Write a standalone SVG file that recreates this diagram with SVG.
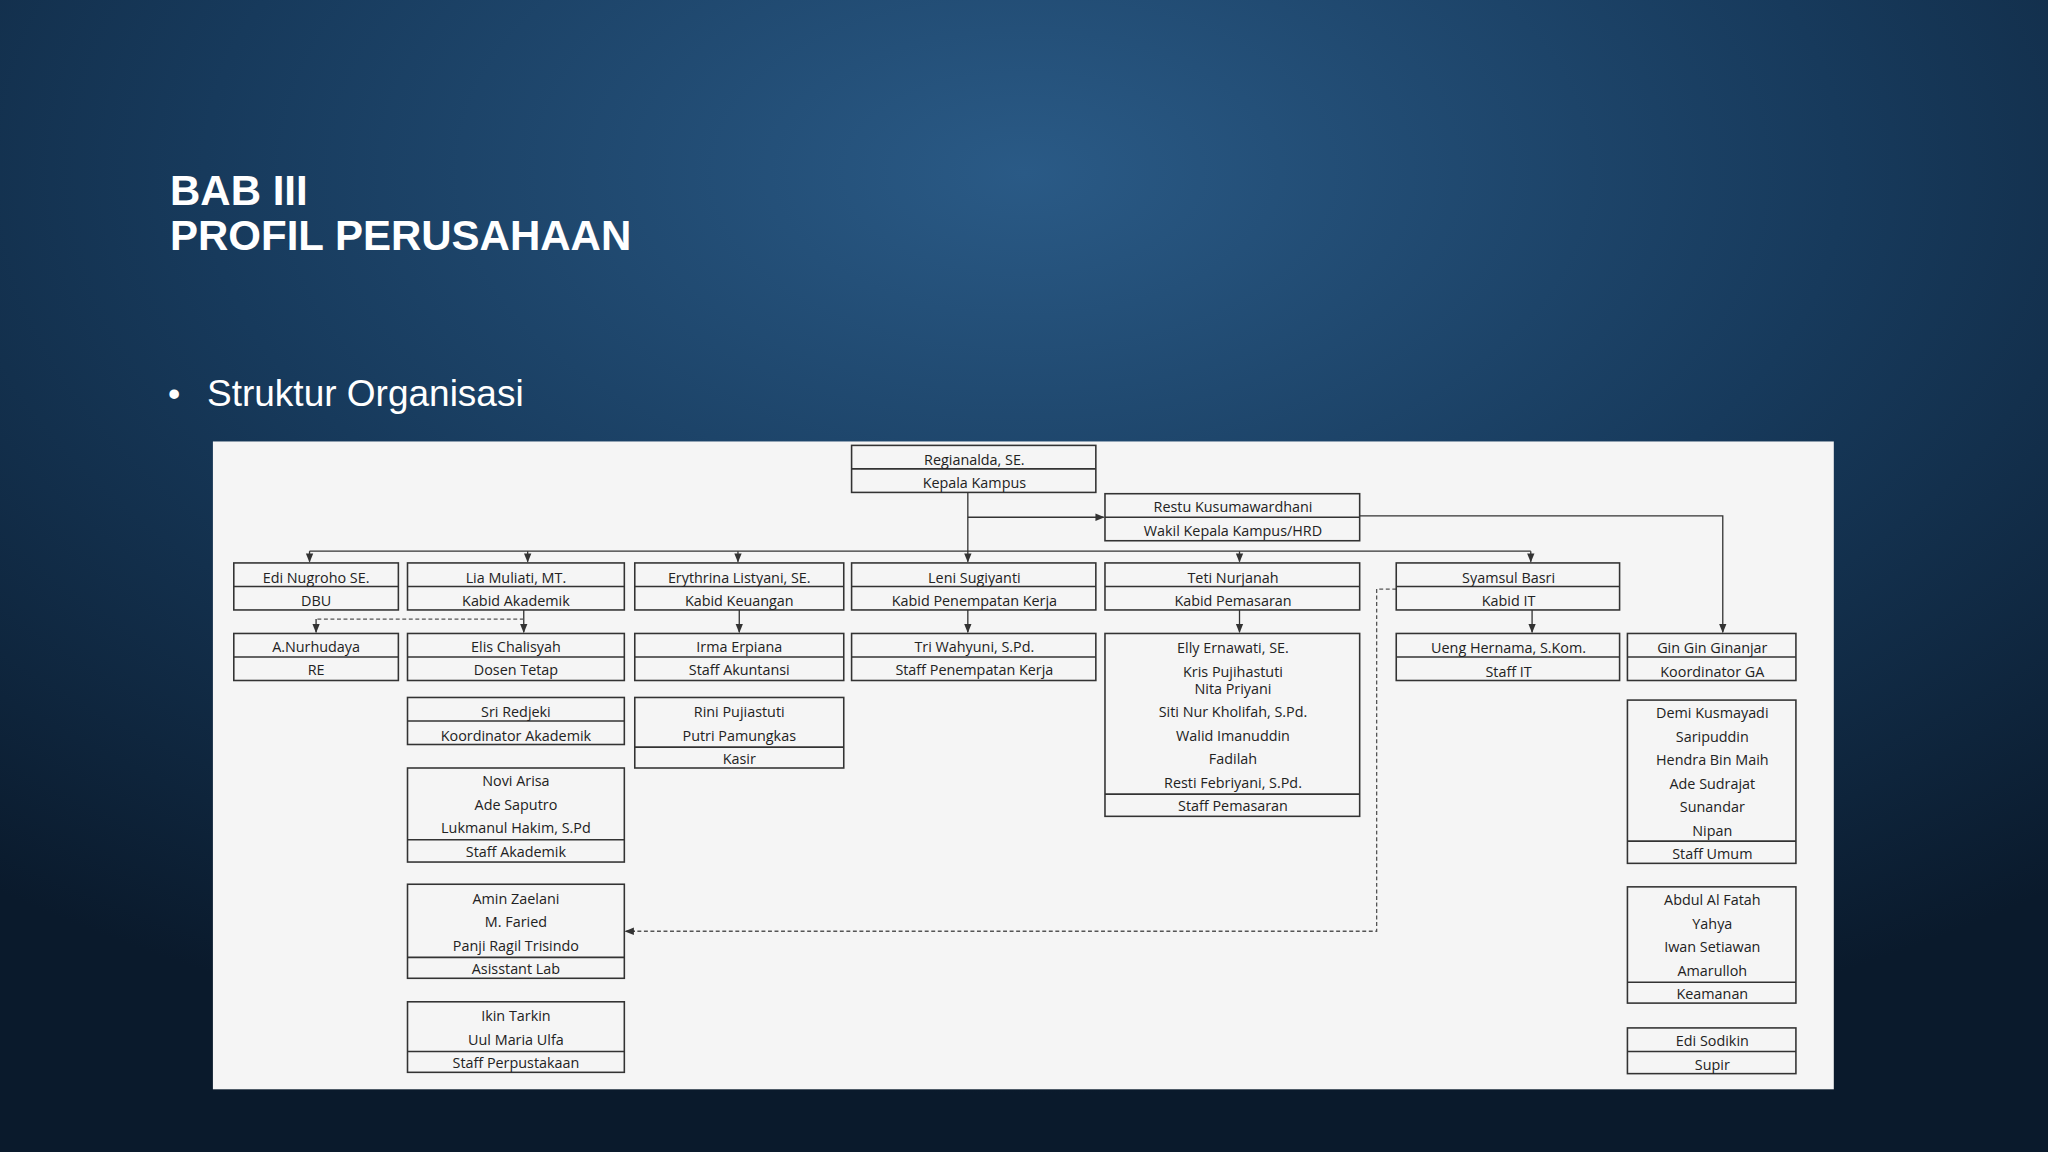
<svg xmlns="http://www.w3.org/2000/svg" width="2048" height="1152" viewBox="0 0 2048 1152">
<defs>
<radialGradient id="bg" cx="0.5" cy="0.15" r="0.8">
<stop offset="0" stop-color="#2a5a86"/><stop offset="0.5" stop-color="#173a5c"/><stop offset="1" stop-color="#0a1a2c"/>
</radialGradient>
<marker id="ah" viewBox="0 0 10 10" refX="9" refY="5" markerWidth="7" markerHeight="7" orient="auto" markerUnits="userSpaceOnUse"><path d="M0,1 L10,5 L0,9 z" fill="#333"/></marker>
</defs>
<style>
.b{fill:none;stroke:#333;stroke-width:1.2}
.t{font-family:"Open Sans","Liberation Sans",sans-serif;font-size:11px;fill:#222;text-anchor:middle}
.c{fill:none;stroke:#333;stroke-width:1}
.d{fill:none;stroke:#555;stroke-width:1;stroke-dasharray:3,2}
</style>
<rect width="2048" height="1152" fill="url(#bg)"/>
<text x="170" y="205" font-family="Liberation Sans,Arial,sans-serif" font-weight="bold" font-size="42" fill="#fff">BAB III</text>
<text x="170" y="250" font-family="Liberation Sans,Arial,sans-serif" font-weight="bold" font-size="42" fill="#fff">PROFIL PERUSAHAAN</text>
<text x="168" y="406" font-family="Liberation Sans,Arial,sans-serif" font-size="35" fill="#fff">•</text>
<text x="207" y="406" font-family="Liberation Sans,Arial,sans-serif" font-size="37" fill="#fff">Struktur Organisasi</text>
<g transform="scale(1.306122)">
<rect x="163" y="338" width="1241" height="496" fill="#f5f5f5"/>
<g id="connectors">
<path class="c" d="M741,377 V430" marker-end="url(#ah)"/>
<path class="c" d="M741,396 H845" marker-end="url(#ah)"/>
<path class="c" d="M237,422 H1172"/>
<path class="c" d="M237,422 V430" marker-end="url(#ah)"/>
<path class="c" d="M404,422 V430" marker-end="url(#ah)"/>
<path class="c" d="M565,422 V430" marker-end="url(#ah)"/>
<path class="c" d="M949,422 V430" marker-end="url(#ah)"/>
<path class="c" d="M1172,422 V430" marker-end="url(#ah)"/>
<path class="c" d="M1041,395 H1319 V484" marker-end="url(#ah)"/>
<path class="c" d="M401,467 V484" marker-end="url(#ah)"/>
<path class="d" d="M401,474 H242"/>
<path class="c" d="M242,474 V484" marker-end="url(#ah)"/>
<path class="c" d="M566,467 V484" marker-end="url(#ah)"/>
<path class="c" d="M741,467 V484" marker-end="url(#ah)"/>
<path class="c" d="M949,467 V484" marker-end="url(#ah)"/>
<path class="c" d="M1173,467 V484" marker-end="url(#ah)"/>
<path class="d" d="M1069,451 H1054 V713 H480"/>
<path class="c" d="M486,713 H479" marker-end="url(#ah)"/>
</g>
<g id="n-regianalda"><rect class="b" x="652" y="341" width="187" height="36"/><line class="b" x1="652" y1="359" x2="839" y2="359"/><text class="t" x="746" y="356">Regianalda, SE.</text><text class="t" x="746" y="374">Kepala Kampus</text></g>
<g id="n-restu"><rect class="b" x="846" y="378" width="195" height="36"/><line class="b" x1="846" y1="396" x2="1041" y2="396"/><text class="t" x="944" y="392">Restu Kusumawardhani</text><text class="t" x="944" y="410">Wakil Kepala Kampus/HRD</text></g>
<g id="n-edi"><rect class="b" x="179" y="431" width="126" height="36"/><line class="b" x1="179" y1="449" x2="305" y2="449"/><text class="t" x="242" y="446">Edi Nugroho SE.</text><text class="t" x="242" y="464">DBU</text></g>
<g id="n-lia"><rect class="b" x="312" y="431" width="166" height="36"/><line class="b" x1="312" y1="449" x2="478" y2="449"/><text class="t" x="395" y="446">Lia Muliati, MT.</text><text class="t" x="395" y="464">Kabid Akademik</text></g>
<g id="n-erythrina"><rect class="b" x="486" y="431" width="160" height="36"/><line class="b" x1="486" y1="449" x2="646" y2="449"/><text class="t" x="566" y="446">Erythrina Listyani, SE.</text><text class="t" x="566" y="464">Kabid Keuangan</text></g>
<g id="n-leni"><rect class="b" x="652" y="431" width="187" height="36"/><line class="b" x1="652" y1="449" x2="839" y2="449"/><text class="t" x="746" y="446">Leni Sugiyanti</text><text class="t" x="746" y="464">Kabid Penempatan Kerja</text></g>
<g id="n-teti"><rect class="b" x="846" y="431" width="195" height="36"/><line class="b" x1="846" y1="449" x2="1041" y2="449"/><text class="t" x="944" y="446">Teti Nurjanah</text><text class="t" x="944" y="464">Kabid Pemasaran</text></g>
<g id="n-syamsul"><rect class="b" x="1069" y="431" width="171" height="36"/><line class="b" x1="1069" y1="449" x2="1240" y2="449"/><text class="t" x="1155" y="446">Syamsul Basri</text><text class="t" x="1155" y="464">Kabid IT</text></g>
<g id="n-nurhudaya"><rect class="b" x="179" y="485" width="126" height="36"/><line class="b" x1="179" y1="503" x2="305" y2="503"/><text class="t" x="242" y="499">A.Nurhudaya</text><text class="t" x="242" y="517">RE</text></g>
<g id="n-elis"><rect class="b" x="312" y="485" width="166" height="36"/><line class="b" x1="312" y1="503" x2="478" y2="503"/><text class="t" x="395" y="499">Elis Chalisyah</text><text class="t" x="395" y="517">Dosen Tetap</text></g>
<g id="n-irma"><rect class="b" x="486" y="485" width="160" height="36"/><line class="b" x1="486" y1="503" x2="646" y2="503"/><text class="t" x="566" y="499">Irma Erpiana</text><text class="t" x="566" y="517">Staff Akuntansi</text></g>
<g id="n-tri"><rect class="b" x="652" y="485" width="187" height="36"/><line class="b" x1="652" y1="503" x2="839" y2="503"/><text class="t" x="746" y="499">Tri Wahyuni, S.Pd.</text><text class="t" x="746" y="517">Staff Penempatan Kerja</text></g>
<g id="n-pemasaran"><rect class="b" x="846" y="485" width="195" height="140"/><line class="b" x1="846" y1="608" x2="1041" y2="608"/>
<text class="t" x="944" y="500">Elly Ernawati, SE.</text><text class="t" x="944" y="518">Kris Pujihastuti</text><text class="t" x="944" y="531">Nita Priyani</text><text class="t" x="944" y="549">Siti Nur Kholifah, S.Pd.</text><text class="t" x="944" y="567">Walid Imanuddin</text><text class="t" x="944" y="585">Fadilah</text><text class="t" x="944" y="603">Resti Febriyani, S.Pd.</text><text class="t" x="944" y="621">Staff Pemasaran</text></g>
<g id="n-ueng"><rect class="b" x="1069" y="485" width="171" height="36"/><line class="b" x1="1069" y1="503" x2="1240" y2="503"/><text class="t" x="1155" y="500">Ueng Hernama, S.Kom.</text><text class="t" x="1155" y="518">Staff IT</text></g>
<g id="n-gingin"><rect class="b" x="1246" y="485" width="129" height="36"/><line class="b" x1="1246" y1="503" x2="1375" y2="503"/><text class="t" x="1311" y="500">Gin Gin Ginanjar</text><text class="t" x="1311" y="518">Koordinator GA</text></g>
<g id="n-sri"><rect class="b" x="312" y="534" width="166" height="36"/><line class="b" x1="312" y1="552" x2="478" y2="552"/><text class="t" x="395" y="549">Sri Redjeki</text><text class="t" x="395" y="567">Koordinator Akademik</text></g>
<g id="n-kasir"><rect class="b" x="486" y="534" width="160" height="54"/><line class="b" x1="486" y1="572" x2="646" y2="572"/><text class="t" x="566" y="549">Rini Pujiastuti</text><text class="t" x="566" y="567">Putri Pamungkas</text><text class="t" x="566" y="585">Kasir</text></g>
<g id="n-akademik"><rect class="b" x="312" y="588" width="166" height="72"/><line class="b" x1="312" y1="643" x2="478" y2="643"/><text class="t" x="395" y="602">Novi Arisa</text><text class="t" x="395" y="620">Ade Saputro</text><text class="t" x="395" y="638">Lukmanul Hakim, S.Pd</text><text class="t" x="395" y="656">Staff Akademik</text></g>
<g id="n-lab"><rect class="b" x="312" y="677" width="166" height="72"/><line class="b" x1="312" y1="733" x2="478" y2="733"/><text class="t" x="395" y="692">Amin Zaelani</text><text class="t" x="395" y="710">M. Faried</text><text class="t" x="395" y="728">Panji Ragil Trisindo</text><text class="t" x="395" y="746">Asisstant Lab</text></g>
<g id="n-perpus"><rect class="b" x="312" y="767" width="166" height="54"/><line class="b" x1="312" y1="805" x2="478" y2="805"/><text class="t" x="395" y="782">Ikin Tarkin</text><text class="t" x="395" y="800">Uul Maria Ulfa</text><text class="t" x="395" y="818">Staff Perpustakaan</text></g>
<g id="n-umum"><rect class="b" x="1246" y="536" width="129" height="125"/><line class="b" x1="1246" y1="644" x2="1375" y2="644"/><text class="t" x="1311" y="550">Demi Kusmayadi</text><text class="t" x="1311" y="568">Saripuddin</text><text class="t" x="1311" y="586">Hendra Bin Maih</text><text class="t" x="1311" y="604">Ade Sudrajat</text><text class="t" x="1311" y="622">Sunandar</text><text class="t" x="1311" y="640">Nipan</text><text class="t" x="1311" y="658">Staff Umum</text></g>
<g id="n-keamanan"><rect class="b" x="1246" y="679" width="129" height="89"/><line class="b" x1="1246" y1="752" x2="1375" y2="752"/><text class="t" x="1311" y="693">Abdul Al Fatah</text><text class="t" x="1311" y="711">Yahya</text><text class="t" x="1311" y="729">Iwan Setiawan</text><text class="t" x="1311" y="747">Amarulloh</text><text class="t" x="1311" y="765">Keamanan</text></g>
<g id="n-supir"><rect class="b" x="1246" y="787" width="129" height="35"/><line class="b" x1="1246" y1="805" x2="1375" y2="805"/><text class="t" x="1311" y="801">Edi Sodikin</text><text class="t" x="1311" y="819">Supir</text></g>
</g>
</svg>
